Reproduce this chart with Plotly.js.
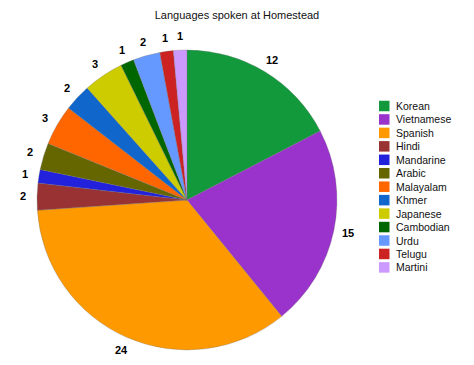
<!DOCTYPE html>
<html><head><meta charset="utf-8">
<script src="https://cdn.plot.ly/plotly-3.0.1.min.js"></script>
<style>html,body{margin:0;padding:0;background:#fff;}</style>
</head><body><div id="chart" style="width:474px;height:365px;"></div>
<script>
var languages = ["Korean","Vietnamese","Spanish","Hindi","Mandarine","Arabic","Malayalam","Khmer","Japanese","Cambodian","Urdu","Telugu","Martini"];
var speakers = [12,15,24,2,1,2,3,2,3,1,2,1,1];
var colors = ["#12993c","#9933cc","#ff9900","#993333","#2222dd","#666600","#ff6600","#1166cc","#cccc00","#006600","#6699ff","#cc2222","#cc99ff"];

var W = 474, H = 365;
var cx = 187, cy = 200, R = 150;
var FONT = "Liberation Sans, Arial, Helvetica, sans-serif";

var trace = {
  type: "pie",
  labels: languages,
  values: speakers,
  sort: false,
  direction: "clockwise",
  rotation: 0,
  marker: {colors: colors, line: {color: "rgba(110,110,110,0.6)", width: 0.5}},
  textinfo: "none",
  hoverinfo: "label+value",
  showlegend: false,
  domain: {x: [(cx-R)/W, (cx+R)/W], y: [1-(cy+R)/H, 1-(cy-R)/H]}
};

var total = speakers.reduce(function(a,b){return a+b;},0);
var annotations = [];
var shapes = [];
var cum = 0;
speakers.forEach(function(v, i){
  var mid = (cum + v/2) / total * 2 * Math.PI;
  cum += v;
  var rr = R + 14;
  var px = cx + rr * Math.sin(mid), py = cy - rr * Math.cos(mid);
  annotations.push({xref:"paper", yref:"paper", x: px/W, y: 1-py/H, text: String(v), showarrow:false,
    xanchor:"center", yanchor:"middle", font:{family:FONT, size:11, color:"#000", weight:"bold"}});
});
// custom compact legend
var lx = 379, ly0 = 106, step = 13.45, sq = 10.5;
languages.forEach(function(name, i){
  var yc = ly0 + i*step;
  shapes.push({type:"rect", xref:"paper", yref:"paper", x0: lx/W, x1: (lx+sq)/W,
    y0: 1-(yc+sq/2)/H, y1: 1-(yc-sq/2)/H, fillcolor: colors[i], line:{width:0}});
  annotations.push({xref:"paper", yref:"paper", x:(lx+15)/W, y:1-yc/H, text:name, showarrow:false,
    xanchor:"left", yanchor:"middle", font:{family:FONT, size:10.5, color:"#111"}});
});

var layout = {
  width: W, height: H,
  margin: {l: 0, r: 0, t: 0, b: 0},
  paper_bgcolor: "#fff",
  font: {family: FONT, color: "#000"},
  title: {text: "Languages spoken at Homestead", font: {family: FONT, size: 11, color: "#111"}, x: 0.5, xanchor: "center", y: 1-15/H, yanchor: "middle"},
  showlegend: false,
  annotations: annotations,
  shapes: shapes
};
Plotly.newPlot("chart", [trace], layout, {displayModeBar: false, staticPlot: true});
</script></body></html>
